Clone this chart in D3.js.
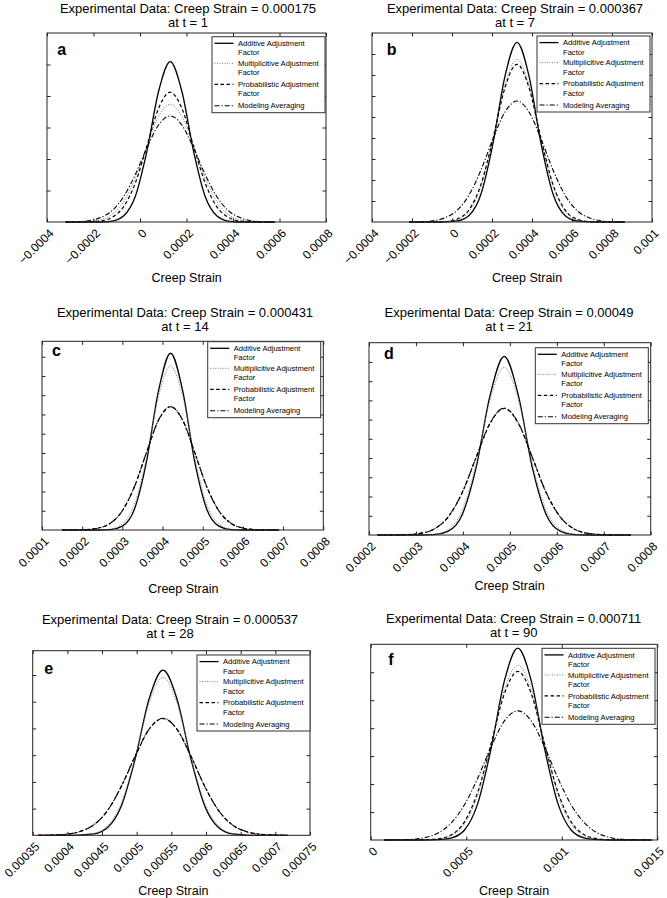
<!DOCTYPE html>
<html>
<head>
<meta charset="utf-8">
<script src="https://cdn.jsdelivr.net/npm/d3@7"></script>
<style>
  body { margin: 0; background: #fff; }
  svg { display: block; }
  text { font-family: "Liberation Sans", Arial, Helvetica, sans-serif; fill: #000; }
</style>
</head>
<body>
<svg id="chart" width="667" height="898"></svg>
<script>
// ---------------- DATA ----------------
const panelLetters = ["a", "b", "c", "d", "e", "f"];
const experimentalStrain = ["0.000175", "0.000367", "0.000431", "0.00049", "0.000537", "0.000711"];
const times = [1, 7, 14, 21, 28, 90];
const seriesNames = [
  ["Additive Adjustment", "Factor"],
  ["Multiplicitive Adjustment", "Factor"],
  ["Probabilistic Adjustment", "Factor"],
  ["Modeling Averaging"]
];
const xLabel = "Creep Strain";

// x-axis domains and tick values
const xDomains = [[-0.0004, 0.0008], [-0.0004, 0.001], [0.0001, 0.0008], [0.0002, 0.0008], [0.00035, 0.00075], [0, 0.0015]];
const xTicksA = [-0.0004, -0.0002, 0, 0.0002, 0.0004, 0.0006, 0.0008];
const xTicksB = [-0.0004, -0.0002, 0, 0.0002, 0.0004, 0.0006, 0.0008, 0.001];
const xTicksC = [0.0001, 0.0002, 0.0003, 0.0004, 0.0005, 0.0006, 0.0007, 0.0008];
const xTicksD = [0.0002, 0.0003, 0.0004, 0.0005, 0.0006, 0.0007, 0.0008];
const xTicksE = [0.00035, 0.0004, 0.00045, 0.0005, 0.00055, 0.0006, 0.00065, 0.0007, 0.00075];
const xTicksF = [0, 0.0005, 0.001, 0.0015];
// y axis (unlabelled ticks, in tick units)
const yTops = [6, 9, 9.8, 10, 6.91, 7];
const yTicksA = [1, 2, 3, 4, 5];
const yTicksB = [1, 2, 3, 4, 5, 6, 7, 8];
const yTicksC = [1, 2, 3, 4, 5, 6, 7, 8, 9];
const yTicksD = [1, 2, 3, 4, 5, 6, 7, 8, 9];
const yTicksE = [1, 2, 3, 4, 5, 6];
const yTicksF = [1, 2, 3, 4, 5, 6];

// Panel a
const xA = [-0.00032, -0.00027, -0.00022, -0.00017, -0.00012, -0.00007, -0.00002, 0.00003, 0.00008, 0.00013, 0.00018, 0.00023, 0.00028, 0.00033, 0.00038, 0.00043, 0.00048, 0.00053, 0.00058];
const additiveA = [0, 0, 0, 0, 0.03, 0.2, 0.82, 2.26, 4.15, 5.09, 4.15, 2.26, 0.82, 0.2, 0.03, 0, 0, 0, 0];
const multiplicitiveA = [0, 0, 0.02, 0.07, 0.24, 0.65, 1.39, 2.41, 3.35, 3.74, 3.35, 2.41, 1.39, 0.65, 0.24, 0.07, 0.02, 0, 0];
const probabilisticA = [0, 0, 0.01, 0.03, 0.15, 0.49, 1.24, 2.42, 3.61, 4.12, 3.61, 2.42, 1.24, 0.49, 0.15, 0.03, 0.01, 0, 0];
const averagingA = [0, 0.01, 0.04, 0.14, 0.36, 0.81, 1.51, 2.36, 3.08, 3.37, 3.08, 2.36, 1.51, 0.81, 0.36, 0.14, 0.04, 0.01, 0];

// Panel b
const xB = [-0.000215, -0.000155, -0.000095, -0.000035, 0.000025, 0.000085, 0.000145, 0.000205, 0.000265, 0.000325, 0.000385, 0.000445, 0.000505, 0.000565, 0.000625, 0.000685, 0.000745, 0.000805, 0.000865];
const additiveB = [0, 0, 0, 0.01, 0.05, 0.31, 1.33, 3.74, 6.95, 8.55, 6.95, 3.74, 1.33, 0.31, 0.05, 0.01, 0, 0, 0];
const multiplicitiveB = [0, 0, 0, 0.02, 0.11, 0.51, 1.69, 3.93, 6.53, 7.74, 6.53, 3.93, 1.69, 0.51, 0.11, 0.02, 0, 0, 0];
const probabilisticB = [0, 0, 0, 0.02, 0.14, 0.58, 1.79, 3.97, 6.4, 7.51, 6.4, 3.97, 1.79, 0.58, 0.14, 0.02, 0, 0, 0];
const averagingB = [0, 0.01, 0.06, 0.2, 0.55, 1.28, 2.48, 3.96, 5.24, 5.76, 5.24, 3.96, 2.48, 1.28, 0.55, 0.2, 0.06, 0.01, 0];

// Panel c
const xC = [0.00015, 0.00018, 0.00021, 0.00024, 0.00027, 0.0003, 0.00033, 0.00036, 0.00039, 0.00042, 0.00045, 0.00048, 0.00051, 0.00054, 0.00057, 0.0006, 0.00063, 0.00066, 0.00069];
const additiveC = [0, 0, 0, 0, 0.02, 0.2, 1.08, 3.55, 7.24, 9.18, 7.24, 3.55, 1.08, 0.2, 0.02, 0, 0, 0, 0];
const multiplicitiveC = [0, 0, 0, 0.01, 0.05, 0.32, 1.34, 3.75, 6.94, 8.52, 6.94, 3.75, 1.34, 0.32, 0.05, 0.01, 0, 0, 0];
const probabilisticC = [0, 0, 0.02, 0.1, 0.35, 1.0, 2.25, 4.02, 5.7, 6.4, 5.7, 4.02, 2.25, 1.0, 0.35, 0.1, 0.02, 0, 0];
const averagingC = [0, 0, 0.02, 0.1, 0.35, 1.0, 2.25, 4.03, 5.71, 6.41, 5.71, 4.03, 2.25, 1.0, 0.35, 0.1, 0.02, 0, 0];

// Panel d
const xD = [0.000218, 0.000248, 0.000278, 0.000308, 0.000338, 0.000368, 0.000398, 0.000428, 0.000458, 0.000488, 0.000518, 0.000548, 0.000578, 0.000608, 0.000638, 0.000668, 0.000698, 0.000728, 0.000758];
const additiveD = [0, 0, 0, 0, 0.02, 0.19, 1.03, 3.49, 7.27, 9.29, 7.27, 3.49, 1.03, 0.19, 0.02, 0, 0, 0, 0];
const multiplicitiveD = [0, 0, 0, 0, 0.04, 0.28, 1.25, 3.68, 7.03, 8.72, 7.03, 3.68, 1.25, 0.28, 0.04, 0, 0, 0, 0];
const probabilisticD = [0, 0, 0.02, 0.08, 0.3, 0.92, 2.17, 4.02, 5.81, 6.58, 5.81, 4.02, 2.17, 0.92, 0.3, 0.08, 0.02, 0, 0];
const averagingD = [0, 0, 0.02, 0.08, 0.3, 0.92, 2.18, 4.03, 5.83, 6.6, 5.83, 4.03, 2.18, 0.92, 0.3, 0.08, 0.02, 0, 0];

// Panel e
const xE = [0.000358, 0.000378, 0.000398, 0.000418, 0.000438, 0.000458, 0.000478, 0.000498, 0.000518, 0.000538, 0.000558, 0.000578, 0.000598, 0.000618, 0.000638, 0.000658, 0.000678, 0.000698, 0.000718];
const additiveE = [0, 0, 0, 0.01, 0.05, 0.29, 1.11, 2.88, 5.11, 6.18, 5.11, 2.88, 1.11, 0.29, 0.05, 0.01, 0, 0, 0];
const multiplicitiveE = [0, 0, 0, 0.01, 0.07, 0.36, 1.22, 2.93, 4.96, 5.91, 4.96, 2.93, 1.22, 0.36, 0.07, 0.01, 0, 0, 0];
const probabilisticE = [0, 0.01, 0.04, 0.14, 0.39, 0.93, 1.84, 2.97, 3.97, 4.37, 3.97, 2.97, 1.84, 0.93, 0.39, 0.14, 0.04, 0.01, 0];
const averagingE = [0, 0.01, 0.04, 0.14, 0.39, 0.93, 1.84, 2.98, 3.98, 4.38, 3.98, 2.98, 1.84, 0.93, 0.39, 0.14, 0.04, 0.01, 0];

// Panel f
const xF = [0.00007, 0.00014, 0.00021, 0.00028, 0.00035, 0.00042, 0.00049, 0.00056, 0.00063, 0.0007, 0.00077, 0.00084, 0.00091, 0.00098, 0.00105, 0.00112, 0.00119, 0.00126, 0.00133, 0.0014, 0.00147];
const additiveF = [0, 0, 0, 0, 0.01, 0.07, 0.35, 1.3, 3.27, 5.7, 6.86, 5.7, 3.27, 1.3, 0.35, 0.07, 0.01, 0, 0, 0, 0];
const multiplicitiveF = [0, 0, 0, 0, 0.03, 0.15, 0.57, 1.62, 3.43, 5.38, 6.25, 5.38, 3.43, 1.62, 0.57, 0.15, 0.03, 0, 0, 0, 0];
const probabilisticF = [0, 0, 0, 0.01, 0.04, 0.18, 0.64, 1.71, 3.44, 5.24, 6.03, 5.24, 3.44, 1.71, 0.64, 0.18, 0.04, 0.01, 0, 0, 0];
const averagingF = [0, 0.01, 0.02, 0.08, 0.24, 0.6, 1.25, 2.21, 3.33, 4.26, 4.62, 4.26, 3.33, 2.21, 1.25, 0.6, 0.24, 0.08, 0.02, 0.01, 0];

// ---------------- ASSEMBLY ----------------
const xGrids = [xA, xB, xC, xD, xE, xF];
const seriesByPanel = [
  [additiveA, multiplicitiveA, probabilisticA, averagingA],
  [additiveB, multiplicitiveB, probabilisticB, averagingB],
  [additiveC, multiplicitiveC, probabilisticC, averagingC],
  [additiveD, multiplicitiveD, probabilisticD, averagingD],
  [additiveE, multiplicitiveE, probabilisticE, averagingE],
  [additiveF, multiplicitiveF, probabilisticF, averagingF]
];
const xTicksAll = [xTicksA, xTicksB, xTicksC, xTicksD, xTicksE, xTicksF];
const yTicksAll = [yTicksA, yTicksB, yTicksC, yTicksD, yTicksE, yTicksF];

// ---------------- LAYOUT / STYLE ----------------
const layout = [
  {l: 47,    r: 326,   t: 33,    b: 222,   tx: 188,   ty: 12.7,  xl: 186.7, xly: 282, lgR: -1,   lgT: 3.7, ldx: 10.3, ldy: 22.3},
  {l: 372,   r: 652,   t: 33,    b: 222,   tx: 515,   ty: 12.7,  xl: 527,   xly: 282, lgR: -2,   lgT: 3,   ldx: 14.7, ldy: 22.3},
  {l: 42,    r: 323.3, t: 341.3, b: 530,   tx: 185,   ty: 316.7, xl: 183.3, xly: 593, lgR: -2.6, lgT: 0.4, ldx: 10,   ldy: 14.7},
  {l: 369,   r: 650.7, t: 342.7, b: 535,   tx: 509,   ty: 317.3, xl: 509.5, xly: 590, lgR: -2.4, lgT: 5,   ldx: 15,   ldy: 16.6},
  {l: 32.7,  r: 310,   t: 650.7, b: 835.3, tx: 170,   ty: 624.3, xl: 173.3, xly: 895, lgR: 0,    lgT: 4.3, ldx: 11.6, ldy: 23.3},
  {l: 370.7, r: 657.3, t: 644.3, b: 840,   tx: 513.7, ty: 623,   xl: 514,   xly: 895, lgR: -2.3, lgT: 4,   ldx: 17.6, ldy: 20.7}
];
const styles = [
  {stroke: "#000", width: 1.3, dash: null},
  {stroke: "#777", width: 1.0, dash: "1,1.5"},
  {stroke: "#000", width: 1.2, dash: "3.5,2.5"},
  {stroke: "#000", width: 1.1, dash: "5,2,1.2,2"}
];

const svg = d3.select("#chart");
const fmt = d => d3.format("~g")(d);
const tickLen = 3.5;

layout.forEach((L, i) => {
  const g = svg.append("g");
  const x = d3.scaleLinear().domain(xDomains[i]).range([L.l, L.r]);
  const y = d3.scaleLinear().domain([0, yTops[i]]).range([L.b, L.t]);

  // title
  g.append("text").attr("x", L.tx).attr("y", L.ty).attr("text-anchor", "middle")
    .style("font-size", "13px").text("Experimental Data: Creep Strain = " + experimentalStrain[i]);
  g.append("text").attr("x", L.tx).attr("y", L.ty + 14).attr("text-anchor", "middle")
    .style("font-size", "13px").text("at t = " + times[i]);

  // curves
  const line = d3.line().x(d => x(d[0])).y(d => y(d[1])).curve(d3.curveMonotoneX);
  seriesByPanel[i].forEach((vals, s) => {
    const pts = xGrids[i].map((xv, k) => [xv, vals[k]]);
    g.append("path").attr("d", line(pts)).attr("fill", "none")
      .attr("stroke", styles[s].stroke).attr("stroke-width", styles[s].width)
      .attr("stroke-dasharray", styles[s].dash);
  });

  // axes (inward ticks on all four sides)
  const bottom = g.append("g").attr("transform", `translate(0,${L.b})`)
    .call(d3.axisBottom(x).tickValues(xTicksAll[i]).tickSize(-tickLen).tickSizeOuter(0).tickFormat(fmt));
  bottom.select(".domain").remove();
  bottom.selectAll("line").attr("stroke", "#222");
  bottom.selectAll("text")
    .attr("x", 0).attr("y", 0).attr("dy", "0.35em")
    .attr("text-anchor", "end")
    .attr("transform", "translate(4,9) rotate(-45)")
    .style("font-size", "12px").attr("font-family", null);

  const top = g.append("g").attr("transform", `translate(0,${L.t})`)
    .call(d3.axisTop(x).tickValues(xTicksAll[i]).tickSize(-tickLen).tickSizeOuter(0).tickFormat(""));
  top.select(".domain").remove();
  top.selectAll("line").attr("stroke", "#222");

  const left = g.append("g").attr("transform", `translate(${L.l},0)`)
    .call(d3.axisLeft(y).tickValues(yTicksAll[i]).tickSize(-tickLen).tickSizeOuter(0).tickFormat(""));
  left.select(".domain").remove();
  left.selectAll("line").attr("stroke", "#222");
  const right = g.append("g").attr("transform", `translate(${L.r},0)`)
    .call(d3.axisRight(y).tickValues(yTicksAll[i]).tickSize(-tickLen).tickSizeOuter(0).tickFormat(""));
  right.select(".domain").remove();
  right.selectAll("line").attr("stroke", "#222");

  // box
  g.append("rect").attr("x", L.l).attr("y", L.t).attr("width", L.r - L.l).attr("height", L.b - L.t)
    .attr("fill", "none").attr("stroke", "#222").attr("stroke-width", 1);

  // x label
  g.append("text").attr("x", L.xl).attr("y", L.xly).attr("text-anchor", "middle")
    .style("font-size", "12.5px").text(xLabel);

  // panel letter
  g.append("text").attr("x", L.l + L.ldx).attr("y", L.t + L.ldy)
    .style("font-size", "16px").style("font-weight", "bold").text(panelLetters[i]);

  // legend
  const lw = 113, lh = 76;
  const lx = L.r + L.lgR - lw, ly = L.t + L.lgT;
  const lg = g.append("g").attr("transform", `translate(${lx},${ly})`);
  lg.append("rect").attr("width", lw).attr("height", lh).attr("fill", "#fff")
    .attr("stroke", "#333").attr("stroke-width", 1);
  const rowY = [6.6, 26.6, 47.6, 69];
  seriesNames.forEach((name, s) => {
    lg.append("line").attr("x1", 2.5).attr("x2", 21.5).attr("y1", rowY[s]).attr("y2", rowY[s])
      .attr("stroke", styles[s].stroke).attr("stroke-width", styles[s].width)
      .attr("stroke-dasharray", styles[s].dash);
    name.forEach((t, j) => {
      lg.append("text").attr("x", 26).attr("y", rowY[s] + 2.7 + j * 9.4)
        .style("font-size", "7.6px").text(t);
    });
  });
});
</script>
</body>
</html>
